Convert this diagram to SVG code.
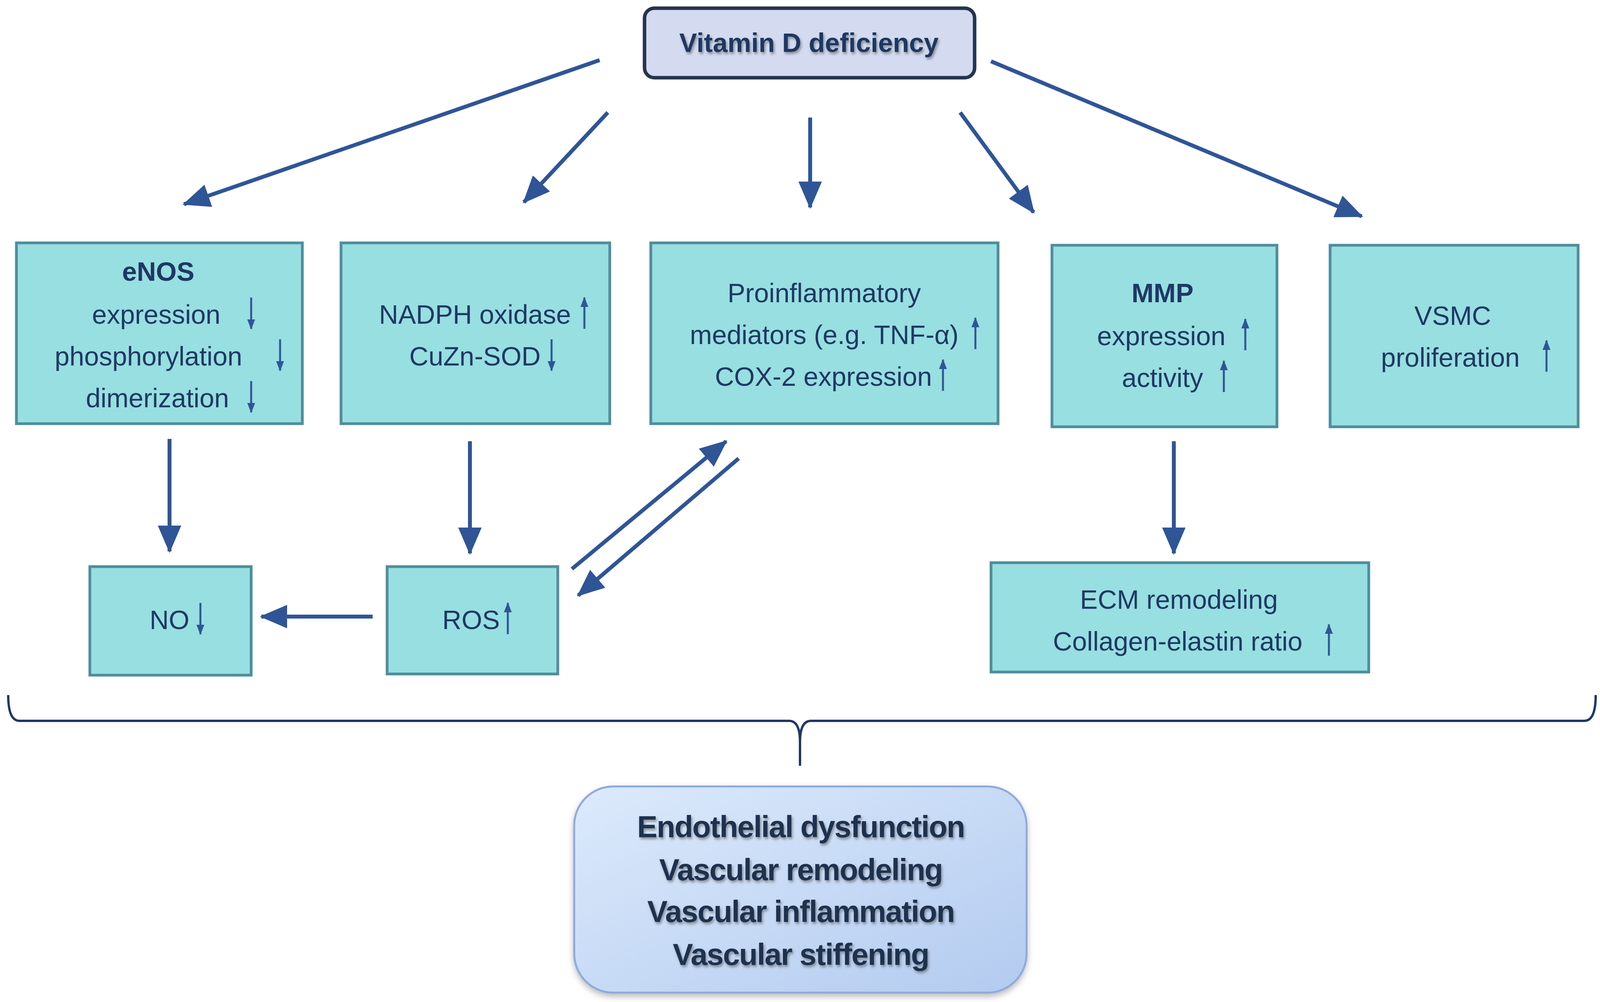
<svg xmlns="http://www.w3.org/2000/svg" width="4100" height="2566" viewBox="0 0 4100 2566">
<defs>
<style>
.box{fill:#97dfe0;stroke:#4f8d9c;stroke-width:7}
.t{font-family:"Liberation Sans",Arial,sans-serif;font-size:68px;fill:#1f3864;text-anchor:middle}
.b{font-weight:bold}
.big{font-family:"Liberation Sans",Arial,sans-serif;font-size:78px;font-weight:bold;fill:#1f3050;text-anchor:middle;letter-spacing:-2px}
.c{stroke:#2f5597;stroke-width:10;fill:none}
.s{stroke:#2f5597;stroke-width:5;fill:none}
</style>
<marker id="ah" markerUnits="userSpaceOnUse" markerWidth="70" markerHeight="60" refX="66" refY="30" orient="auto"><path d="M0,0 L70,30 L0,60 Z" fill="#2f5597"/></marker>
<marker id="sh" markerUnits="userSpaceOnUse" markerWidth="26" markerHeight="20" refX="24" refY="10" orient="auto"><path d="M0,0 L26,10 L0,20 Z" fill="#2f5597"/></marker>
<linearGradient id="bg" x1="0" y1="0" x2="1" y2="1"><stop offset="0" stop-color="#dceafb"/><stop offset="1" stop-color="#b3cbf0"/></linearGradient>
<filter id="sd" x="-5%" y="-5%" width="110%" height="120%"><feDropShadow dx="0" dy="8" stdDeviation="8" flood-color="#777" flood-opacity="0.5"/></filter>
<filter id="ts"><feDropShadow dx="3" dy="5" stdDeviation="3" flood-color="#555" flood-opacity="0.6"/></filter>
</defs>
<rect width="4100" height="2566" fill="#fff"/>

<g id="connectors">
<line class="c" x1="1535" y1="154" x2="471" y2="523" marker-end="url(#ah)"/>
<line class="c" x1="1556" y1="288" x2="1341" y2="518" marker-end="url(#ah)"/>
<line class="c" x1="2074" y1="301" x2="2074" y2="531" marker-end="url(#ah)"/>
<line class="c" x1="2458" y1="288" x2="2646" y2="544" marker-end="url(#ah)"/>
<line class="c" x1="2537" y1="157" x2="3486" y2="554" marker-end="url(#ah)"/>
<line class="c" x1="434" y1="1124" x2="434" y2="1412" marker-end="url(#ah)"/>
<line class="c" x1="1203" y1="1130" x2="1203" y2="1417" marker-end="url(#ah)"/>
<line class="c" x1="1464" y1="1457" x2="1859" y2="1130" marker-end="url(#ah)"/>
<line class="c" x1="1891" y1="1174" x2="1480" y2="1525" marker-end="url(#ah)"/>
<line class="c" x1="954" y1="1579" x2="669" y2="1579" marker-end="url(#ah)"/>
<line class="c" x1="3005" y1="1130" x2="3005" y2="1417" marker-end="url(#ah)"/>
<path d="M21,1780 Q21,1846 50,1846 L2020,1846 Q2048,1846 2048,1900 L2048,1961 M2048,1900 Q2048,1846 2076,1846 L4056,1846 Q4085,1846 4085,1780" stroke="#1f3864" stroke-width="6" fill="none"/>
</g>

<g id="vitd">
<rect x="1650" y="21" width="845" height="178" rx="25" fill="#d4dbf0" stroke="#26344f" stroke-width="9"/>
<text class="t b" x="2071" y="133" filter="url(#ts)">Vitamin D deficiency</text>
</g>

<g id="enos">
<rect class="box" x="42" y="622" width="732" height="463"/>
<text class="t b" x="405" y="719">eNOS</text>
<text class="t" x="400" y="829">expression</text>
<text class="t" x="380" y="936">phosphorylation</text>
<text class="t" x="403" y="1043">dimerization</text>
<line class="s" x1="643" y1="762" x2="643" y2="842" marker-end="url(#sh)"/>
<line class="s" x1="717" y1="869" x2="717" y2="949" marker-end="url(#sh)"/>
<line class="s" x1="643" y1="976" x2="643" y2="1056" marker-end="url(#sh)"/>
</g>

<g id="nadph">
<rect class="box" x="873" y="622" width="688" height="463"/>
<text class="t" x="1216" y="829">NADPH oxidase</text>
<text class="t" x="1216" y="936">CuZn-SOD</text>
<line class="s" x1="1496" y1="842" x2="1496" y2="762" marker-end="url(#sh)"/>
<line class="s" x1="1412" y1="869" x2="1412" y2="949" marker-end="url(#sh)"/>
</g>

<g id="proinfl">
<rect class="box" x="1666" y="622" width="889" height="463"/>
<text class="t" x="2110" y="774">Proinflammatory</text>
<text class="t" x="2110" y="881">mediators (e.g. TNF-α)</text>
<text class="t" x="2108" y="988">COX-2 expression</text>
<line class="s" x1="2497" y1="894" x2="2497" y2="814" marker-end="url(#sh)"/>
<line class="s" x1="2414" y1="1001" x2="2414" y2="921" marker-end="url(#sh)"/>
</g>

<g id="mmp">
<rect class="box" x="2693" y="628" width="576" height="465"/>
<text class="t b" x="2976" y="774">MMP</text>
<text class="t" x="2973" y="884">expression</text>
<text class="t" x="2976" y="991">activity</text>
<line class="s" x1="3188" y1="897" x2="3188" y2="817" marker-end="url(#sh)"/>
<line class="s" x1="3133" y1="1004" x2="3133" y2="924" marker-end="url(#sh)"/>
</g>

<g id="vsmc">
<rect class="box" x="3405" y="628" width="635" height="465"/>
<text class="t" x="3719" y="832">VSMC</text>
<text class="t" x="3713" y="939">proliferation</text>
<line class="s" x1="3959" y1="952" x2="3959" y2="872" marker-end="url(#sh)"/>
</g>

<g id="no">
<rect class="box" x="230" y="1451" width="413" height="278"/>
<text class="t" x="434" y="1611">NO</text>
<line class="s" x1="513" y1="1544" x2="513" y2="1624" marker-end="url(#sh)"/>
</g>

<g id="ros">
<rect class="box" x="991" y="1451" width="437" height="275"/>
<text class="t" x="1206" y="1611">ROS</text>
<line class="s" x1="1300" y1="1624" x2="1300" y2="1544" marker-end="url(#sh)"/>
</g>

<g id="ecm">
<rect class="box" x="2537" y="1441" width="967" height="280"/>
<text class="t" x="3018" y="1559">ECM remodeling</text>
<text class="t" x="3015" y="1666">Collagen-elastin ratio</text>
<line class="s" x1="3402" y1="1679" x2="3402" y2="1599" marker-end="url(#sh)"/>
</g>

<g id="outcome">
<rect x="1470" y="2014" width="1158" height="528" rx="100" fill="url(#bg)" stroke="#8faadc" stroke-width="5" filter="url(#sd)"/>
<g filter="url(#ts)">
<text class="big" x="2050" y="2144">Endothelial dysfunction</text>
<text class="big" x="2050" y="2254">Vascular remodeling</text>
<text class="big" x="2050" y="2361">Vascular inflammation</text>
<text class="big" x="2050" y="2471">Vascular stiffening</text>
</g>
</g>
</svg>
